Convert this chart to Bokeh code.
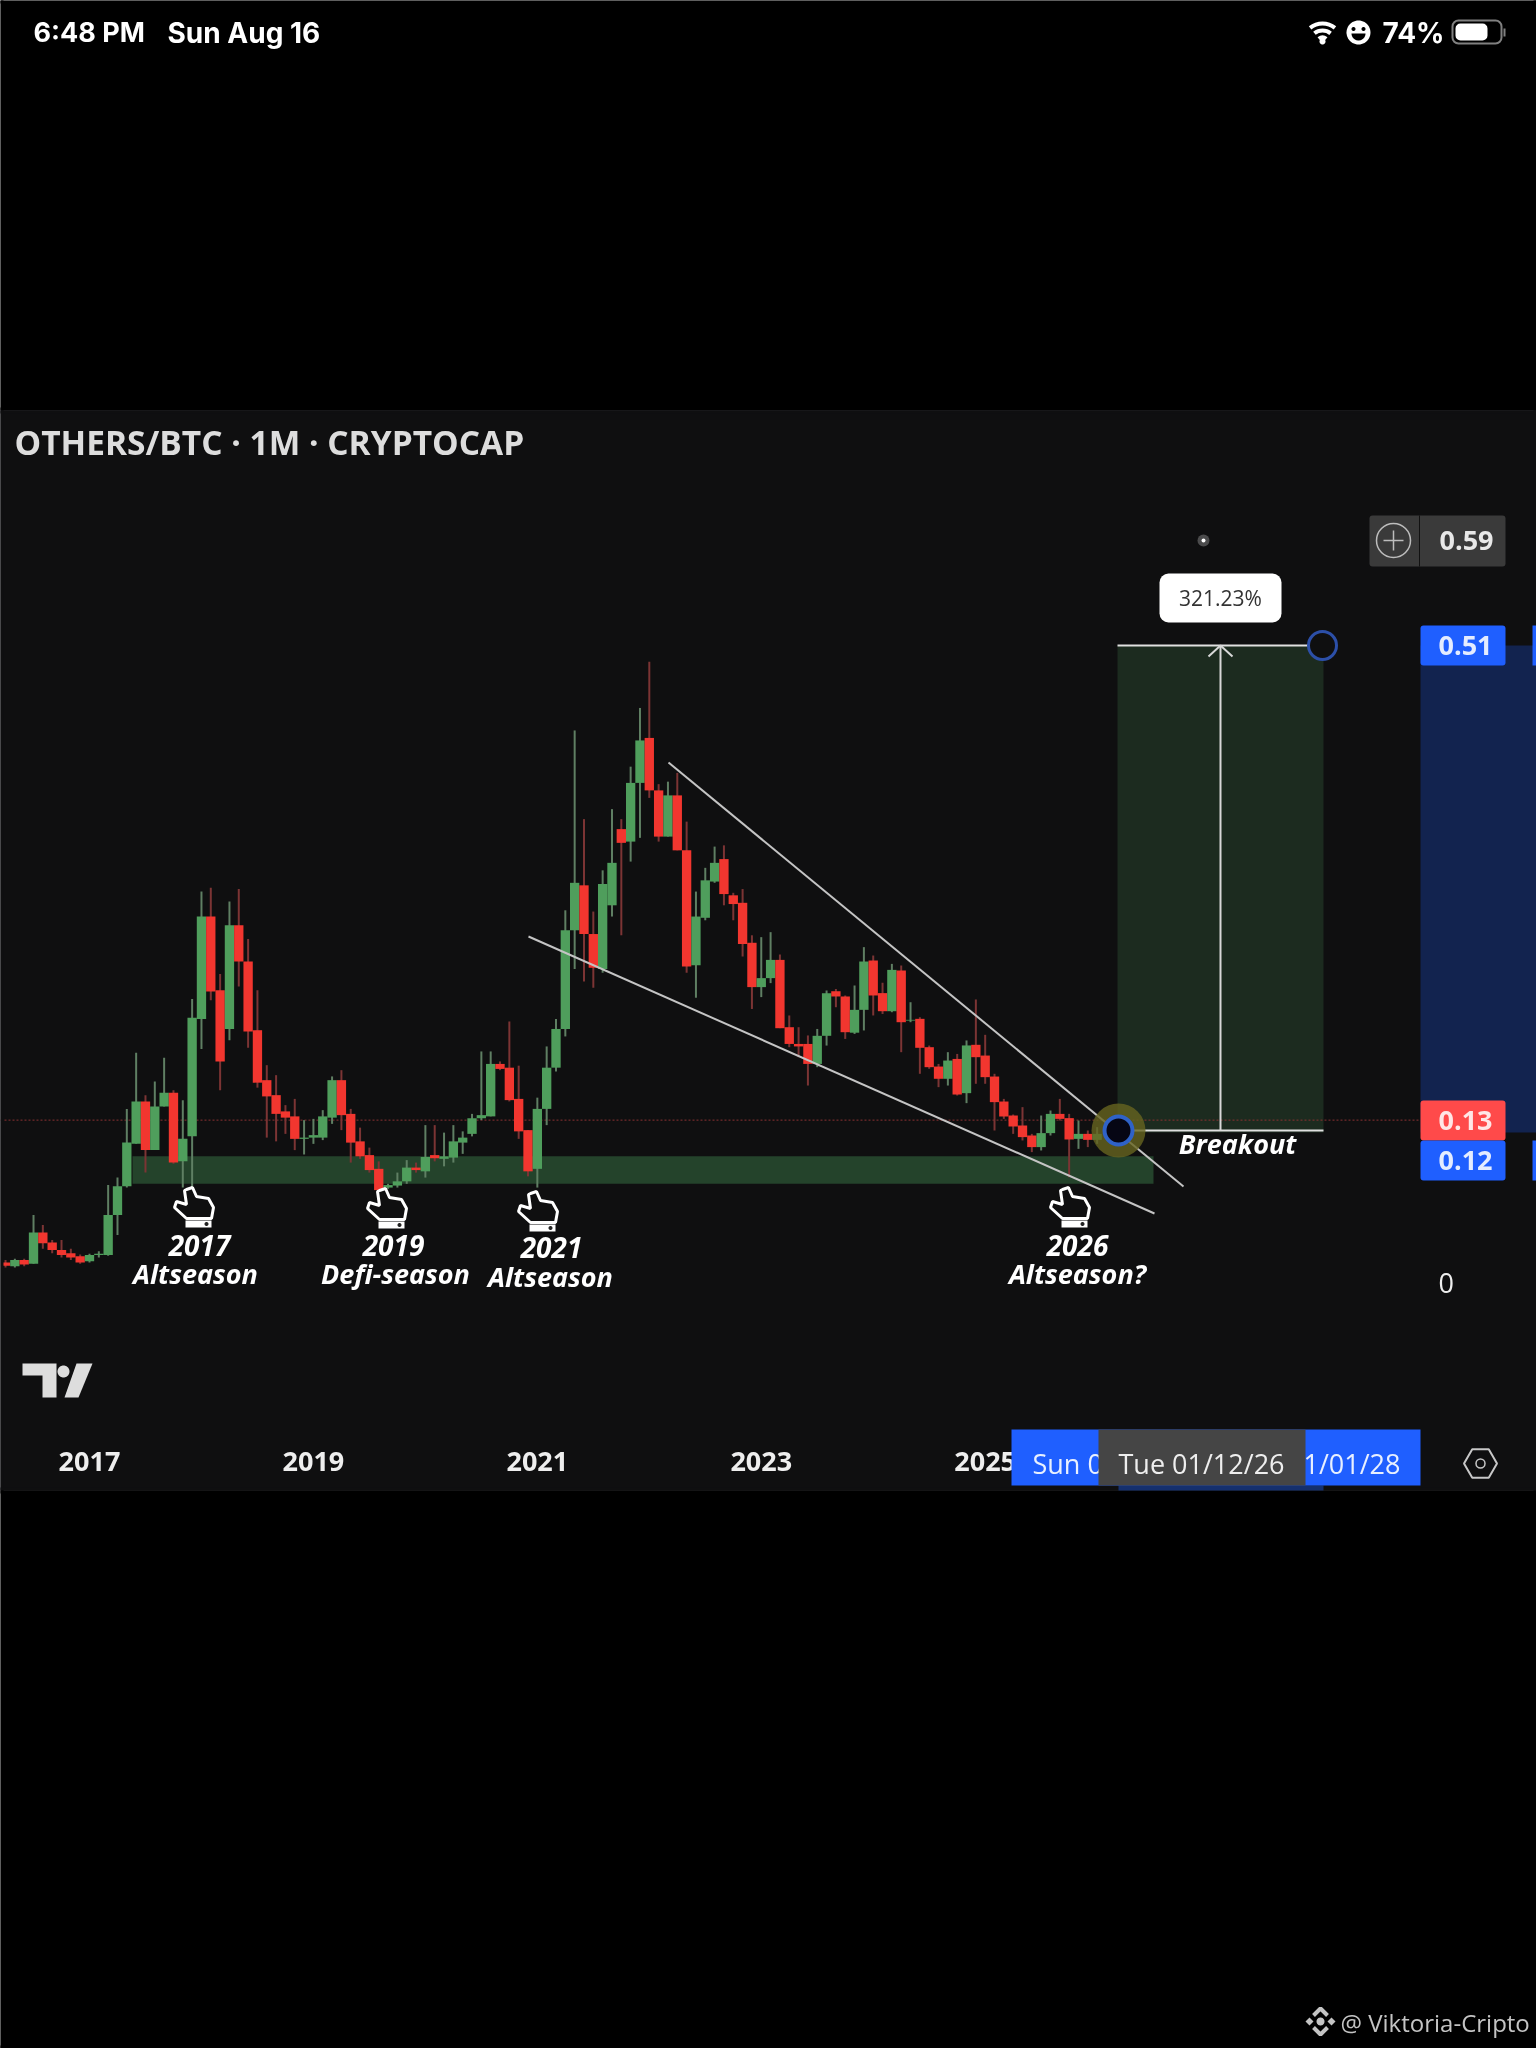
import math
from bokeh.plotting import figure
from bokeh.embed import file_html
from bokeh.resources import INLINE
from bokeh.core.properties import value
from bokeh.models import Range1d

# ---- chart values ---------------------------------------------------------
tick_labels = ["2017", "2019", "2021", "2023", "2025"]
axis_zero = [0]
first_month = -9
opens = [.016,.013,.018,.015,.040,.032,.026,.0235,.021,.017,.022,.022,.054,.077,.111,.145,.106,.141,.152,.097,.117,.211,.293,.234,.203,.286,.257,.202,.162,.150,.137,.133,.115,.116,.116,.132,.162,.135,.113,.102,.091,
 .076,.0776,.081,.092,.089,.102,.099,.100,.112,.119,.1315,.133,.175,.172,.147,.122,.091,.139,.172,.203,.282,.318,.279,.251,.302,.363,.353,.400,.436,.394,.357,.390,.346,.254,.292,.321,.339,.310,.304,.272,
 .2365,.2437,.2583,.2044,.191,.191,.175,.1975,.2332,.229,.200,.2183,.2578,.2317,.2172,.2498,.2097,.2111,.1884,.1729,.1631,.179,.1516,.1903,.1817,.1649,.1449,.1337,.1257,.1177,.1084,.1196,.135,.1316,.115,.119,.1142]
highs = [.018,.019,.019,.054,.046,.034,.034,.027,.0225,.023,.025,.078,.084,.139,.184,.150,.161,.180,.154,.146,.227,.313,.316,.247,.305,.315,.275,.234,.174,.166,.142,.147,.130,.131,.138,.165,.170,.139,.124,.108,.097,
 .079,.088,.098,.096,.126,.126,.120,.126,.121,.135,.185,.185,.177,.209,.1736,.122,.148,.189,.211,.298,.442,.371,.297,.330,.379,.371,.413,.460,.497,.399,.401,.408,.369,.313,.332,.349,.350,.312,.315,.278,
 .2765,.2805,.2626,.2138,.2044,.1978,.203,.2338,.235,.2298,.2378,.2685,.2618,.240,.2551,.2538,.2244,.2124,.1897,.175,.1844,.183,.1938,.2266,.1983,.1671,.147,.1345,.1404,.119,.1337,.1377,.147,.135,.1297,.1217,.1244]
lows = [.012,.012,.013,.015,.027,.0235,.020,.018,.015,.016,.020,.0215,.038,.076,.111,.088,.106,.141,.095,.076,.076,.187,.226,.154,.194,.237,.188,.156,.116,.113,.119,.106,.1025,.111,.114,.127,.122,.096,.099,.088,.066,
 .075,.076,.079,.088,.084,.097,.093,.096,.103,.117,.130,.133,.170,.145,.115,.085,.076,.126,.169,.197,.251,.241,.236,.248,.293,.278,.337,.356,.388,.353,.357,.346,.248,.228,.290,.320,.302,.290,.261,.219,
 .2285,.2397,.2036,.1884,.1804,.1577,.1724,.1897,.2204,.195,.199,.2018,.2138,.215,.2164,.1844,.2084,.1671,.1711,.1564,.1577,.1497,.1436,.1591,.1591,.1217,.131,.119,.1137,.1044,.1057,.1177,.1297,.0843,.107,.1084,.111]
closes = [.0135,.018,.0145,.040,.0315,.026,.022,.020,.016,.022,.023,.054,.077,.112,.145,.106,.141,.152,.096,.115,.212,.293,.233,.177,.286,.257,.201,.160,.149,.135,.132,.115,.116,.118,.133,.162,.134,.112,.101,.090,.074,
 .078,.081,.092,.090,.1005,.0995,.101,.113,.116,.1315,.134,.175,.171,.146,.121,.089,.139,.172,.203,.282,.320,.279,.252,.319,.336,.352,.400,.434,.394,.357,.390,.346,.253,.293,.322,.336,.311,.303,.271,.2365,
 .2437,.2583,.2036,.191,.189,.175,.1975,.2316,.229,.2004,.2183,.257,.2298,.2172,.2503,.2084,.2103,.1879,.1724,.1631,.1777,.1505,.1898,.1804,.1644,.1444,.1329,.1249,.1164,.1084,.1196,.135,.131,.1145,.119,.1142,.119]

support_zone = [0.079, 0.101]
last_price = [0.13]
target_price = 0.51
entry_price = 0.12
title_text = "OTHERS/BTC · 1M · CRYPTOCAP"

GREEN, RED = "#4f9e5c", "#f2362f"
GREEN_W, RED_W = "#5f7f63", "#7c3434"
BLUE = "#1f5fff"
PANEL = "#0f0f10"
FONT = "Open Sans"

# ---- pixel <-> data mapping of the chart ----------------------------------
W, H = 1536, 2048
TOP, BOTTOM = 410, 1490
PX_PER_MONTH = 9.33
X0 = 89.0
ZERO_Y = 1282.0
PX_PER_UNIT = 1249.0

def X(px):
    return (px - X0) / PX_PER_MONTH

def Y(py):
    return (ZERO_Y - py) / PX_PER_UNIT

p = figure(width=W, height=H, output_backend="svg", toolbar_location=None,
           x_range=Range1d(X(0), X(W)), y_range=Range1d(Y(BOTTOM), Y(TOP)),
           y_axis_location="right", min_border_left=0, min_border_right=0,
           min_border_top=TOP, min_border_bottom=H - BOTTOM,
           border_fill_color="#000000", background_fill_color=PANEL,
           outline_line_color=None,
           styles={"position": "fixed", "left": "0px", "top": "0px"})
p.grid.visible = False

# real axes, their labels pulled inside the panel
p.xaxis.ticker = [24 * i for i in range(len(tick_labels))]
p.xaxis.major_label_overrides = {24 * i: s for i, s in enumerate(tick_labels)}
p.yaxis.ticker = axis_zero
for ax in (p.xaxis[0], p.yaxis[0]):
    ax.axis_line_color = None
    ax.major_tick_line_color = None
    ax.minor_tick_line_color = None
    ax.major_label_text_color = "#eeeeee"
    ax.major_label_text_font = FONT
p.xaxis.major_label_text_font_size = "27px"
p.xaxis.major_label_text_font_style = "bold"
p.xaxis.major_label_standoff = -45
p.yaxis.major_label_text_font_size = "27px"
p.yaxis.major_label_standoff = -104


def txt(px, py, s, size, color="#ffffff", align="left", font=FONT, style="normal", level="overlay"):
    p.text(x=[X(px)], y=[Y(py)], text=[s], text_font=value(font), text_font_size=f"{size}px",
           text_font_style=style, text_color=color, text_align=align,
           text_baseline="middle", level=level)


def box(x0, x1, y0, y1, color, level="overlay", radius=0):
    p.quad(left=[X(x0)], right=[X(x1)], top=[Y(y0)], bottom=[Y(y1)], fill_color=color,
           line_color=None, level=level, border_radius=radius)


def pline(xs, ys, color="#ffffff", width=2, level="glyph", dash="solid", alpha=1):
    p.line([X(v) for v in xs], [Y(v) for v in ys], line_color=color, line_width=width,
           level=level, line_dash=dash, line_alpha=alpha)


def disc(cx, cy, r, fill, line=None, width=1, level="overlay", a0=0.0, a1=360.0):
    n = 48
    ang = [math.radians(a0 + (a1 - a0) * i / n) for i in range(n + 1)]
    p.patch([X(cx + r * math.cos(a)) for a in ang], [Y(cy + r * math.sin(a)) for a in ang],
            fill_color=fill, line_color=line, line_width=width, level=level)


# ---- cover the hairlines at the panel and page edges ------------------------
box(0, W, 0, 3, "#000000")
box(0, 3, 0, TOP, "#000000")
box(W - 3, W, 0, TOP, "#000000")
box(0, W, TOP - 3, TOP, "#000000")
box(0, W, TOP, TOP + 3, PANEL)
box(0, 3, TOP, BOTTOM, PANEL)
box(W - 3, W, TOP, 640, PANEL)
box(0, W, BOTTOM - 3, BOTTOM, PANEL)
box(0, W, BOTTOM, BOTTOM + 3, "#000000")
box(0, 3, BOTTOM, H, "#000000")
box(W - 3, W, BOTTOM, H, "#000000")
box(0, W, H - 3, H, "#000000")

# ---- zones -----------------------------------------------------------------
p.quad(left=[X(132)], right=[X(1153)], bottom=[support_zone[0]], top=[support_zone[1]],
       fill_color="#24432b", line_color=None)
p.quad(left=[X(1117)], right=[X(1323)], bottom=[entry_price], top=[target_price],
       fill_color="#1c2b1f", line_color=None)
p.quad(left=[X(1420)], right=[X(1536)], bottom=[entry_price], top=[target_price],
       fill_color="#12234f", line_color=None)
p.line([X(0), X(1420)], [last_price[0]] * 2, line_color="#8a3030", line_width=1, line_dash="2 2")

# ---- candles ---------------------------------------------------------------
months = list(range(first_month, first_month + len(opens)))
up = [c >= o for o, c in zip(opens, closes)]
p.segment(x0=months, x1=months, y0=lows, y1=highs, line_width=2,
          line_color=[GREEN_W if u else RED_W for u in up])
p.vbar(x=months, width=1.0, bottom=[min(o, c) for o, c in zip(opens, closes)],
       top=[max(o, c) for o, c in zip(opens, closes)],
       fill_color=[GREEN if u else RED for u in up], line_color=None)

# ---- wedge lines -----------------------------------------------------------
pline([668, 1183], [762, 1186], "#c4c4c4", 2)
pline([528, 1154], [936, 1213], "#c4c4c4", 2)

# ---- measure tool ----------------------------------------------------------
pline([1117, 1310], [645, 645], "#e0e0e0", 2)
pline([1132, 1323], [1130, 1130], "#e0e0e0", 2)
pline([1220, 1220], [1130, 645], "#d8d8d8", 2)
pline([1208, 1220, 1232], [656, 645, 656], "#d8d8d8", 2)
p.scatter([X(1322)], [Y(645)], size=28, fill_color=PANEL, line_color="#2c4fa8", line_width=3)
p.scatter([X(1118)], [Y(1130)], size=54, fill_color="#66641f", fill_alpha=0.8, line_color=None)
p.scatter([X(1118)], [Y(1130)], size=28, fill_color="#060614", line_color="#2f62c7", line_width=4)

# ---- hands and notes -------------------------------------------------------
hand_x = [-3, 3, 7, 19, 24, 22, -3, -15, -13, -3, -5]
hand_y = [2, 0, 9, 11, 20, 31, 31, 20, 14, 17, 3]
for hx, hy in [(189, 1187), (382, 1188), (533, 1191), (1065, 1187)]:
    p.patch([X(hx + v) for v in hand_x], [Y(hy + v) for v in hand_y], fill_color=PANEL,
            line_color="#ffffff", line_width=3, level="overlay")
    box(hx - 4, hx + 22, hy + 33, hy + 40, "#ffffff")
    disc(hx + 17, hy + 36.5, 2, "#222222")

for px, py, s, size in [(199, 1245, "2017", 28), (195, 1273, "Altseason", 27),
                        (393, 1245, "2019", 28), (395, 1273, "Defi-season", 27),
                        (551, 1247, "2021", 28), (550, 1276, "Altseason", 27),
                        (1077, 1245, "2026", 28), (1077, 1273, "Altseason?", 27),
                        (1237, 1143, "Breakout", 27)]:
    txt(px, py, s, size, align="center", style="bold italic")

# ---- price scale boxes -----------------------------------------------------
box(1369, 1505, 515, 566, "#3a3a3a", radius=3)
box(1418.5, 1419.5, 515, 566, "#111111")
p.scatter([X(1393)], [Y(540)], size=34, fill_color=None, line_color="#bdbdbd", line_width=1.5, level="overlay")
p.scatter([X(1393)], [Y(540)], size=20, marker="cross", fill_color=None, line_color="#bdbdbd", line_width=1.5, level="overlay")
txt(1466, 540, "0.59", 27, "#e8e8e8", "center", style="bold")
box(1420, 1505, 625, 665, BLUE, radius=3)
box(1532, 1536, 625, 665, BLUE)
txt(1465, 645, "0.51", 27, "#e4ecff", "center", style="bold")
box(1420, 1505, 1100, 1140, "#ff4a4a", radius=3)
txt(1465, 1120, "0.13", 27, "#ffe6e6", "center", style="bold")
box(1420, 1505, 1140, 1180, BLUE, radius=3)
box(1532, 1536, 1140, 1180, BLUE)
txt(1465, 1160, "0.12", 27, "#e4ecff", "center", style="bold")

# ---- percentage tag and dot ------------------------------------------------
box(1159, 1281, 573, 622, "#ffffff", radius=9)
txt(1220, 597, "321.23%", 21, "#333333", "center")
p.scatter([X(1203)], [Y(540)], size=12, fill_color="#ffffff", fill_alpha=0.25, line_color=None, level="overlay")
p.scatter([X(1203)], [Y(540)], size=4, fill_color="#ffffff", line_color=None, level="overlay")

# ---- title and logo --------------------------------------------------------
txt(14, 441, title_text, 33.5, "#dddddd", style="bold")
p.patch([X(v) for v in [22, 56, 56, 42, 42, 32, 32, 22]],
        [Y(v) for v in [1363, 1363, 1397, 1397, 1375, 1375, 1375, 1375]],
        fill_color="#dddddd", line_color=None, level="overlay")
disc(63, 1371, 6, "#dddddd")
p.patch([X(v) for v in [76, 92, 78, 64]], [Y(v) for v in [1363, 1363, 1397, 1397]],
        fill_color="#dddddd", line_color=None, level="overlay")

# ---- date boxes ------------------------------------------------------------
box(1118, 1323, 1485, 1490, "#15306e")
box(1011, 1420, 1429, 1485, BLUE)
txt(1032, 1463, "Sun 0", 27, "#e8f0ff")
txt(1400, 1463, "1/01/28", 27, "#e8f0ff", "right")
box(1098, 1305, 1429, 1485, "#454545")
txt(1201, 1463, "Tue 01/12/26", 27, "#eeeeee", "center")
p.scatter([X(1480)], [Y(1463)], size=33, marker="hex", fill_color=None, line_color="#c8c8c8", line_width=2, level="overlay")
p.scatter([X(1480)], [Y(1463)], size=9, fill_color=None, line_color="#c8c8c8", line_width=1.5, level="overlay")

# ---- device status bar -----------------------------------------------------
txt(33, 32, "6:48 PM", 27, "#ffffff", font="Inter", style="bold")
txt(167, 32, "Sun Aug 16", 28, "#ffffff", font="Inter", style="bold")
for r in (6, 13, 20):
    p.arc([X(1322)], [Y(43)], radius=r, radius_units="screen", start_angle=0.9, end_angle=2.24,
          line_color="#ffffff", line_width=4, level="overlay")
disc(1322, 41, 3, "#ffffff")
disc(1358, 32, 12, "#ffffff")
disc(1353, 28.5, 2, "#000000")
disc(1363, 28.5, 2, "#000000")
disc(1358, 33, 7, "#000000", a0=0, a1=180)
txt(1382, 32, "74%", 28, "#ffffff", font="Inter", style="bold")
p.quad(left=[X(1452)], right=[X(1501)], top=[Y(20)], bottom=[Y(43)], fill_color=None,
       line_color="#808080", line_width=2, level="overlay", border_radius=6)
box(1455, 1487, 23, 40, "#ffffff", radius=5)
box(1503, 1505, 28, 36, "#808080")

# ---- watermark -------------------------------------------------------------
WM = "#c4c4c4"
txt(1340, 2022, "@ Viktoria-Cripto", 24, WM)
disc(1320, 2021, 4, WM)
for cx in (1309, 1331):
    p.patch([X(cx - 4), X(cx), X(cx + 4), X(cx)], [Y(2021), Y(2017), Y(2021), Y(2025)],
            fill_color=WM, line_color=None, level="overlay")
pline([1313, 1320, 1327], [2015, 2008, 2015], WM, 4, "overlay")
pline([1313, 1320, 1327], [2027, 2034, 2027], WM, 4, "overlay")

open("out.html", "w").write(file_html(p, INLINE))
